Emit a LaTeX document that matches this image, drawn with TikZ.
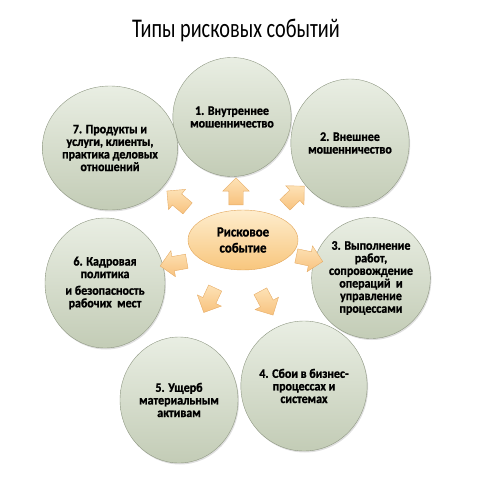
\documentclass[tikz,border=0pt]{standalone}
\usepackage{fontspec}
\setmainfont{Carlito}
\newfontfamily\titlefont[FakeStretch=0.75]{Carlito}
\newfontfamily\circfont[FakeStretch=0.92,FakeBold=1.2]{Carlito Bold}
\usetikzlibrary{shapes.geometric,shapes.arrows,shadows}
\definecolor{circtop}{HTML}{E9EEE3}
\definecolor{circbot}{HTML}{C3CCB6}
\definecolor{circline}{HTML}{8E9782}
\definecolor{ovaltop}{HTML}{FEEDCD}
\definecolor{ovalbot}{HTML}{F8C67D}
\definecolor{ovalline}{HTML}{E1A457}
\definecolor{arrtop}{HTML}{FDE2B6}
\definecolor{arrbot}{HTML}{F8C27E}
\definecolor{arrline}{HTML}{E6AC66}
\begin{document}
\begin{tikzpicture}[x=1pt,y=-1pt,
    risk/.style={ellipse,draw=circline,top color=circtop,bottom color=circbot,
        inner sep=0pt,align=center,font=\circfont\fontsize{13}{12.6}\selectfont,
        drop shadow={opacity=0.25,shadow xshift=1pt,shadow yshift=-1.5pt}},
    core/.style={ellipse,draw=ovalline,top color=ovaltop,bottom color=ovalbot,
        minimum width=110pt,minimum height=60pt,inner sep=0pt,align=center,
        font=\circfont\fontsize{14}{16}\selectfont},
    blockarr/.style={single arrow,draw=arrline,top color=arrtop,bottom color=arrbot,
        inner xsep=0pt,inner ysep=7pt,minimum height=27pt,
        single arrow head extend=6pt}]
    \useasboundingbox (0,0) rectangle (480,480);
    \node (title) at (236,30) {\titlefont\fontsize{27}{30}\selectfont Типы рисковых событий};
    % центральное событие
    \node[core] (event) at (243,240) {Рисковое\\событие};
    % типы событий
    \node[risk,minimum width=117pt,minimum height=119pt] (internal) at (232,117)
        {1. Внутреннее\\мошенничество};
    \node[risk,minimum width=113pt,minimum height=128pt] (external) at (350,143)
        {2. Внешнее\\мошенничество};
    \node[risk,minimum width=112pt,minimum height=121pt] (execution) at (371,278)
        {3. Выполнение\\работ,\\сопровождение\\операций~~и\\управление\\процессами};
    \node[risk,minimum width=112pt,minimum height=130pt] (failures) at (304,386)
        {4. Сбои в бизнес-\\процессах и\\системах};
    \node[risk,minimum width=118pt,minimum height=126pt] (damage) at (179,400)
        {5. Ущерб\\материальным\\активам};
    \node[risk,minimum width=120pt,minimum height=130pt] (personnel) at (105,283)
        {6. Кадровая\\политика\\[4pt]и безопасность\\рабочих~~мест};
    \node[risk,minimum width=118pt,minimum height=124pt] (products) at (110,148)
        {7. Продукты и\\услуги, клиенты,\\практика деловых\\отношений};
    % стрелки от события
    \node[blockarr,rotate=90] (toInternal) at (236,195) {};
    \node[blockarr,rotate=44] (toExternal) at (292,198) {};
    \node[blockarr,rotate=-12] (toExecution) at (306,258) {};
    \node[blockarr,rotate=-62] (toFailures) at (265,300) {};
    \node[blockarr,rotate=-115] (toDamage) at (211,297) {};
    \node[blockarr,rotate=190] (toPersonnel) at (177,263) {};
    \node[blockarr,rotate=140] (toProducts) at (180,202) {};
\end{tikzpicture}
\end{document}
